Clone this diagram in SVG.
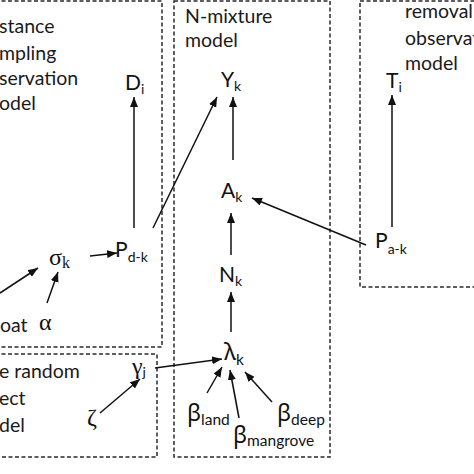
<svg xmlns="http://www.w3.org/2000/svg" width="474" height="474" viewBox="0 0 474 474">
<style>
.box{fill:none;stroke:#2a2a2a;stroke-width:1.5;stroke-dasharray:4 2.5}
.lbl{font-family:Lato,"Liberation Sans",sans-serif;font-size:19.5px;fill:#1a1a1a}
.n{font-family:Lato,"Liberation Sans",sans-serif;font-size:21px;fill:#111}
.sub{font-size:14px}
.g{font-family:"Liberation Serif","DejaVu Serif",serif;font-size:24px;fill:#111}
.b{font-family:"Noto Sans","DejaVu Sans",sans-serif;font-size:23px;fill:#111}
.bs{font-family:Lato,"Liberation Sans",sans-serif;font-size:15.5px}
.c{stroke:#111;stroke-width:1.5;fill:none;marker-end:url(#ah)}
</style>
<defs>
<marker id="ah" markerUnits="userSpaceOnUse" markerWidth="10" markerHeight="8" viewBox="0 0 10 8" refX="10" refY="4" orient="auto">
<path d="M0,0 L10,4 L0,8 z" fill="#111"/>
</marker>
</defs>
<rect width="474" height="474" fill="#fff"/>
<g id="box-distance">
<rect class="box" x="-5" y="1" width="167" height="346"/>
<text class="lbl" x="-1" y="33">stance</text>
<text class="lbl" x="-1" y="60">mpling</text>
<text class="lbl" x="-1" y="85">servation</text>
<text class="lbl" x="-1" y="110">odel</text>
</g>
<g id="box-nmixture">
<rect class="box" x="174" y="1" width="156" height="456"/>
<text class="lbl" x="185" y="23">N-mixture</text>
<text class="lbl" x="185" y="47">model</text>
</g>
<g id="box-removal">
<rect class="box" x="360" y="1" width="120" height="286"/>
<text class="lbl" x="405" y="18">removal</text>
<text class="lbl" x="405" y="45">observat</text>
<text class="lbl" x="405" y="70">model</text>
</g>
<g id="box-random">
<rect class="box" x="-5" y="354" width="162" height="103"/>
<text class="lbl" x="-1" y="378">e random</text>
<text class="lbl" x="-1" y="405">ect</text>
<text class="lbl" x="-1" y="432">del</text>
</g>
<g id="connectors">
<line class="c" x1="134" y1="228" x2="134" y2="97"/>
<line class="c" x1="153" y1="228" x2="217" y2="97"/>
<line class="c" x1="233" y1="160" x2="233" y2="97"/>
<line class="c" x1="231" y1="255" x2="231" y2="213"/>
<line class="c" x1="231" y1="332" x2="231" y2="292"/>
<line class="c" x1="366" y1="245" x2="252" y2="198"/>
<line class="c" x1="392" y1="227" x2="392" y2="95"/>
<line class="c" x1="90" y1="256" x2="117" y2="253"/>
<line class="c" x1="0" y1="293" x2="38" y2="268"/>
<line class="c" x1="47" y1="303" x2="58" y2="272"/>
<line class="c" x1="155" y1="368" x2="222" y2="359"/>
<line class="c" x1="100" y1="413" x2="140" y2="379"/>
<line class="c" x1="207" y1="393" x2="222" y2="367"/>
<line class="c" x1="239" y1="418" x2="230" y2="370"/>
<line class="c" x1="272" y1="402" x2="245" y2="372"/>
</g>
<g id="node-Di"><text class="n" x="125" y="90">D<tspan class="sub" dy="4">i</tspan></text></g>
<g id="node-Yk"><text class="n" x="221" y="87">Y<tspan class="sub" dy="4">k</tspan></text></g>
<g id="node-Ak"><text class="n" x="221" y="198">A<tspan class="sub" dy="4">k</tspan></text></g>
<g id="node-Nk"><text class="n" x="219" y="282">N<tspan class="sub" dy="4">k</tspan></text></g>
<g id="node-lambda"><text class="b" x="224" y="360">λ<tspan class="bs" dy="5">k</tspan></text></g>
<g id="node-Ti"><text class="n" x="386" y="88">T<tspan class="sub" dy="4">i</tspan></text></g>
<g id="node-Pak"><text class="n" x="375" y="248">P<tspan class="sub" dy="6">a-k</tspan></text></g>
<g id="node-Pdk"><text class="n" x="115" y="257">P<tspan class="sub" dy="5">d-k</tspan></text></g>
<g id="node-sigma"><text class="g" x="49" y="265">σ<tspan font-size="16" dy="3">k</tspan></text></g>
<g id="node-boat"><text class="lbl" x="0" y="332">oat</text></g>
<g id="node-alpha"><text class="g" x="39" y="330">α</text></g>
<g id="node-gamma"><text class="g" x="132" y="374">γ<tspan font-family="Lato, sans-serif" font-size="14" dy="3">j</tspan></text></g>
<g id="node-zeta"><text class="g" x="87" y="425">ζ</text></g>
<g id="node-bland"><text class="b" x="187" y="421">β<tspan class="bs" dy="4">land</tspan></text></g>
<g id="node-bmangrove"><text class="b" x="233" y="443">β<tspan class="bs" dy="3">mangrove</tspan></text></g>
<g id="node-bdeep"><text class="b" x="277" y="421">β<tspan class="bs" dy="4">deep</tspan></text></g>
</svg>
